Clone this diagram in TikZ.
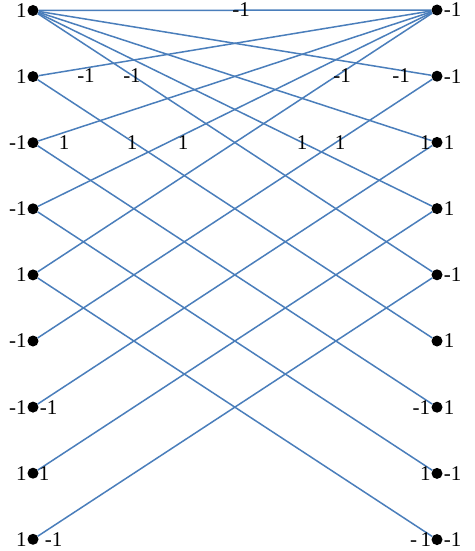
\documentclass[tikz,border=0pt]{standalone}
\usepackage{fontspec}
\setmainfont{Liberation Serif}
\definecolor{linkblue}{RGB}{74,126,187}
\begin{document}
\begin{tikzpicture}[x=1pt,y=-1pt,
  dot/.style={circle,fill=black,inner sep=0pt,minimum size=11pt},
  lbl/.style={font=\fontsize{21}{22}\selectfont,inner sep=0pt},
  edge/.style={draw=linkblue,line width=1.5pt}]
\fill[white] (0,0) rectangle (474,551);
\useasboundingbox (0,0) rectangle (474,551);
% dots
\foreach \i in {1,...,9} {
  \node[dot] (L\i) at (33,{10.5+66.1*(\i-1)}) {};
  \node[dot] (R\i) at (437,{10+66.2*(\i-1)}) {};
}
% connectors
\foreach \j in {1,...,5} { \draw[edge] (L1) -- (R\j); }
\foreach \j in {2,...,5} { \draw[edge] (R1) -- (L\j); }
\draw[edge] (L2) -- (R6);
\draw[edge] (L3) -- (R7);
\draw[edge] (L4) -- (R8);
\draw[edge] (L5) -- (R9);
\draw[edge] (L6) -- (R2);
\draw[edge] (L7) -- (R3);
\draw[edge] (L8) -- (R4);
\draw[edge] (L9) -- (R5);
% node values
\foreach \i/\t in {1/1,2/1,3/-1,4/-1,5/1,6/-1,7/-1,8/1,9/1} {
  \node[lbl,anchor=east] (LL\i) at ([xshift=-0.5pt]L\i.west) {\t};
}
\foreach \i/\t in {1/-1,2/-1,3/1,4/1,5/-1,6/1,7/1,8/-1,9/-1} {
  \node[lbl,anchor=west] (RL\i) at ([xshift=1pt]R\i.east) {\t};
}
% weights
\node[lbl] (w11) at (241,9.5) {-1};
\node[lbl] (w21) at (86,76) {-1};
\node[lbl] (w22) at (132,76) {-1};
\node[lbl] (w23) at (342,76) {-1};
\node[lbl] (w24) at (401,76) {-1};
\node[lbl] (w31) at (64,143) {1};
\node[lbl] (w32) at (132,143) {1};
\node[lbl] (w33) at (183,143) {1};
\node[lbl] (w34) at (302,143) {1};
\node[lbl] (w35) at (340,143) {1};
\node[lbl,anchor=east] (w36) at ([xshift=-0.5pt]R3.west) {1};
\node[lbl,anchor=west] (w71) at ([xshift=1pt]L7.east) {-1};
\node[lbl,anchor=west] (w81) at ([xshift=0pt]L8.east) {1};
\node[lbl,anchor=west] (w91) at ([xshift=6pt]L9.east) {-1};
\node[lbl,anchor=east] (w72) at ([xshift=-1pt]R7.west) {-1};
\node[lbl,anchor=east] (w82) at ([xshift=-0.5pt]R8.west) {1};
\node[lbl,anchor=east] (w92) at ([xshift=0pt]R9.west) {-\,1};
\end{tikzpicture}
\end{document}
